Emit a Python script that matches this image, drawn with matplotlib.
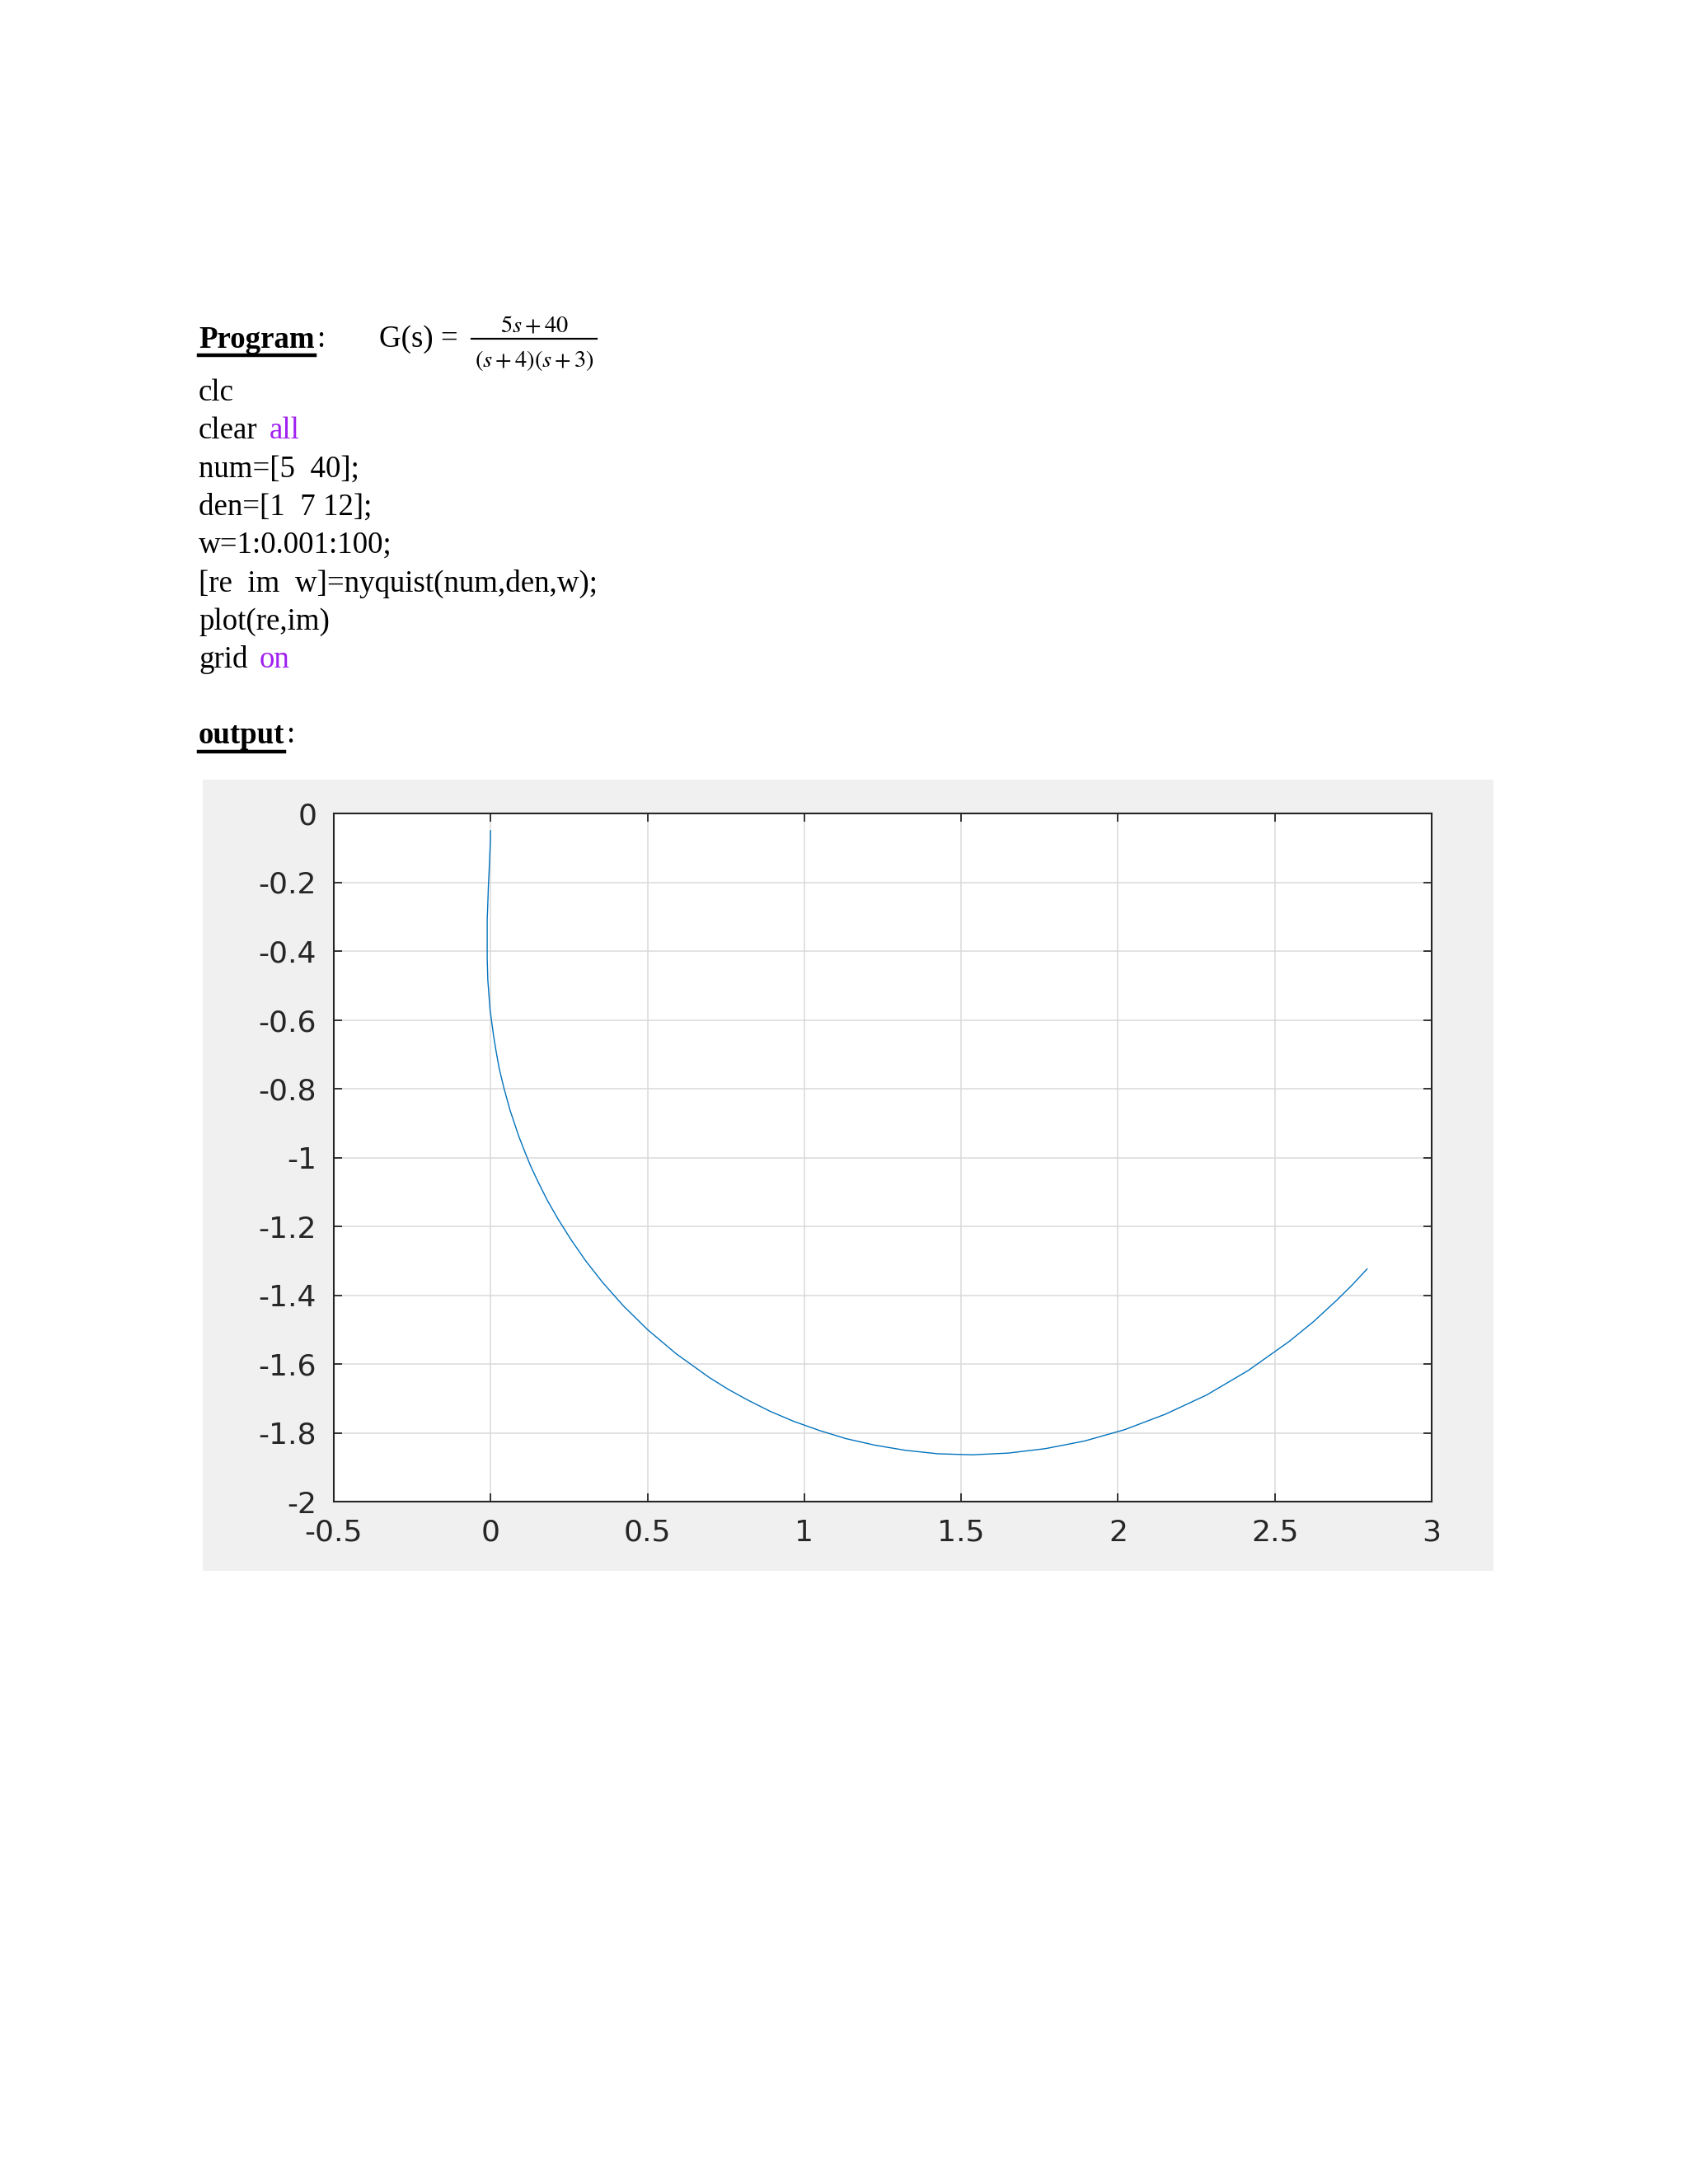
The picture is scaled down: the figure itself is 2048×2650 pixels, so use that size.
import matplotlib.pyplot as plt
from matplotlib.patches import Rectangle
from matplotlib.lines import Line2D

plt.rcParams['axes.unicode_minus'] = False
plt.rcParams['mathtext.fontset'] = 'stix'

# page text
code_lines = [
    ("clc", None),
    ("clear", "all"),
    ("num=[5  40];", None),
    ("den=[1  7 12];", None),
    ("w=1:0.001:100;", None),
    ("[re  im  w]=nyquist(num,den,w);", None),
    ("plot(re,im)", None),
    ("grid", "on"),
]
tf_num = r"$5s+40$"
tf_den = r"$(s+4)(s+3)$"

re_vals = [2.794, 2.746, 2.697, 2.622, 2.545, 2.415, 2.283, 2.151, 2.021,
           1.893, 1.769, 1.650, 1.535, 1.426, 1.323, 1.225, 1.133, 1.047,
           0.967, 0.892, 0.822, 0.758, 0.698, 0.591, 0.500, 0.423, 0.357,
           0.302, 0.255, 0.215, 0.181, 0.153, 0.128, 0.108, 0.090, 0.062,
           0.042, 0.027, 0.017, 0.009, -0.002, -0.009, -0.011, -0.011,
           -0.009, -0.007, -0.005, -0.003, -0.001, -0.0005]
im_vals = [-1.324, -1.371, -1.415, -1.478, -1.535, -1.619, -1.690, -1.746,
           -1.791, -1.824, -1.846, -1.859, -1.864, -1.861, -1.851, -1.836,
           -1.817, -1.793, -1.767, -1.738, -1.706, -1.674, -1.640, -1.570,
           -1.500, -1.431, -1.363, -1.299, -1.237, -1.179, -1.125, -1.074,
           -1.026, -0.981, -0.939, -0.863, -0.797, -0.740, -0.689, -0.644,
           -0.569, -0.484, -0.420, -0.311, -0.261, -0.206, -0.170, -0.126,
           -0.084, -0.050]

x_ticks = [-0.5, 0, 0.5, 1, 1.5, 2, 2.5, 3]
x_labels = ["-0.5", "0", "0.5", "1", "1.5", "2", "2.5", "3"]
y_ticks = [0, -0.2, -0.4, -0.6, -0.8, -1, -1.2, -1.4, -1.6, -1.8, -2]
y_labels = ["0", "-0.2", "-0.4", "-0.6", "-0.8", "-1", "-1.2", "-1.4",
            "-1.6", "-1.8", "-2"]

W, H = 2048, 2650
fig = plt.figure(figsize=(W / 100, H / 100), dpi=100)
fig.patch.set_facecolor('white')


def fx(px):
    return px / W


def fy(py):
    return 1 - py / H


serif = 'Liberation Serif'
fs = 26.6
purple = '#A020F0'

renderer = fig.canvas.get_renderer()


def underline(t, y_px):
    bb = t.get_window_extent(renderer=renderer)
    fig.add_artist(Line2D([bb.x0 / W, bb.x1 / W], [fy(y_px), fy(y_px)],
                          color='black', lw=3.2, transform=fig.transFigure))
    return bb


# "Program:" heading
t = fig.text(fx(241), fy(412), "Program", fontsize=fs, family=serif,
             weight='bold', va='center')
bb = underline(t, 431)
fig.text(bb.x1 / W + 0.001, fy(412), ":", fontsize=fs, family=serif, va='center')

# transfer function
fig.text(fx(460), fy(412), "G(s) =", fontsize=fs, family=serif, va='center')
fig.add_artist(Line2D([fx(572), fx(724)], [fy(411), fy(411)], color='black',
                      lw=1.6, transform=fig.transFigure))
fig.text(fx(648), fy(394), tf_num, fontsize=20.5, ha='center', va='center')
fig.text(fx(648), fy(437), tf_den, fontsize=20.5, ha='center', va='center')

# code listing
y = 477
for main, kw in code_lines:
    t = fig.text(fx(241), fy(y), main, fontsize=fs, family=serif, va='center')
    if kw:
        bb = t.get_window_extent(renderer=renderer)
        fig.text(bb.x1 / W + 0.007, fy(y), kw, fontsize=fs, family=serif,
                 color=purple, va='center')
    y += 46.2

t = fig.text(fx(241), fy(892), "output", fontsize=fs, family=serif,
             weight='bold', va='center')
bb = underline(t, 912)
fig.text(bb.x1 / W + 0.001, fy(892), ":", fontsize=fs, family=serif, va='center')

# matlab figure background
fig.add_artist(Rectangle((fx(246), fy(1906)), fx(1812) - fx(246),
                         fy(946) - fy(1906), transform=fig.transFigure,
                         facecolor='#F0F0F0', edgecolor='none', zorder=0))

ax = fig.add_axes([fx(405), fy(1822), fx(1737) - fx(405), fy(987) - fy(1822)])
ax.set_facecolor('white')
ax.plot(re_vals, im_vals, color='#0072BD', lw=1.0, zorder=3)

ax.set_xlim(-0.5, 3)
ax.set_ylim(-2, 0)
ax.set_xticks(x_ticks)
ax.set_xticklabels(x_labels)
ax.set_yticks(y_ticks)
ax.set_yticklabels(y_labels)
ax.grid(True, color='#DADADA', lw=1.1)
ax.set_axisbelow(True)
ax.tick_params(direction='in', top=True, right=True, length=7, width=1.3,
               color='#262626', labelcolor='#262626', labelsize=26, pad=15)
for lab in ax.get_xticklabels() + ax.get_yticklabels():
    lab.set_family('DejaVu Sans')
for s in ax.spines.values():
    s.set_color('#262626')
    s.set_linewidth(1.5)

fig.savefig('out.png', dpi=100, facecolor='white')
